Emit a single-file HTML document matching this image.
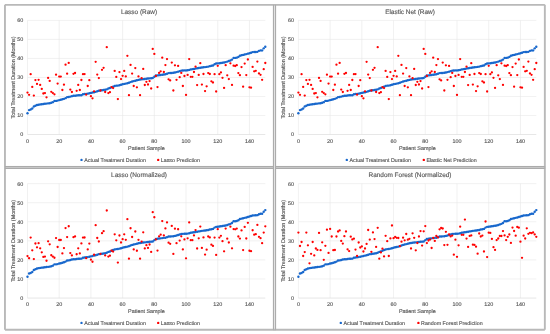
<!DOCTYPE html>
<html><head><meta charset="utf-8"><style>
html,body{margin:0;padding:0;background:#fff;}
svg{display:block;filter:blur(0.3px);}
text{text-rendering:geometricPrecision;}
.t{font-family:'Liberation Sans', Arial, sans-serif;font-size:5.42px;fill:#595959;stroke:#595959;stroke-width:0.15px;}
.lg{font-family:'Liberation Sans', Arial, sans-serif;font-size:5.3px;fill:#595959;stroke:#595959;stroke-width:0.15px;}
.ti{font-family:'Liberation Sans', Arial, sans-serif;font-size:6.45px;fill:#595959;stroke:#595959;stroke-width:0.15px;}
</style></head><body>
<svg width="550" height="334" viewBox="0 0 550 334">
<rect width="550" height="334" fill="#fff"/>
<path d="M27.50 115.48H265.30 M27.50 96.47H265.30 M27.50 77.45H265.30 M27.50 58.43H265.30 M27.50 39.42H265.30 M27.50 20.40H265.30 M27.50 20.40V134.50 M59.21 20.40V134.50 M90.91 20.40V134.50 M122.62 20.40V134.50 M154.33 20.40V134.50 M186.03 20.40V134.50 M217.74 20.40V134.50 M249.45 20.40V134.50" stroke="#e8e8e8" stroke-width="0.6" fill="none"/>
<path d="M27.50 134.50H265.30" stroke="#dcdcdc" stroke-width="0.7" fill="none"/>
<text x="23.20" y="136.40" text-anchor="end" class="t">0</text>
<text x="23.20" y="117.38" text-anchor="end" class="t">10</text>
<text x="23.20" y="98.37" text-anchor="end" class="t">20</text>
<text x="23.20" y="79.35" text-anchor="end" class="t">30</text>
<text x="23.20" y="60.33" text-anchor="end" class="t">40</text>
<text x="23.20" y="41.32" text-anchor="end" class="t">50</text>
<text x="23.20" y="22.30" text-anchor="end" class="t">60</text>
<text x="27.50" y="142.70" text-anchor="middle" class="t">0</text>
<text x="59.21" y="142.70" text-anchor="middle" class="t">20</text>
<text x="90.91" y="142.70" text-anchor="middle" class="t">40</text>
<text x="122.62" y="142.70" text-anchor="middle" class="t">60</text>
<text x="154.33" y="142.70" text-anchor="middle" class="t">80</text>
<text x="186.03" y="142.70" text-anchor="middle" class="t">100</text>
<text x="217.74" y="142.70" text-anchor="middle" class="t">120</text>
<text x="249.45" y="142.70" text-anchor="middle" class="t">140</text>
<text x="146.40" y="149.60" text-anchor="middle" class="t">Patient Sample</text>
<text transform="translate(14.50 77.45) rotate(-90)" text-anchor="middle" class="t">Total Treatment Duration (Months)</text>
<text x="139.00" y="14.30" text-anchor="middle" class="ti">Lasso (Raw)</text>
<g fill="#1767cc"><circle cx="27.50" cy="113.30" r="1.2"/><circle cx="29.09" cy="110.09" r="1.2"/><circle cx="30.67" cy="109.55" r="1.2"/><circle cx="32.26" cy="108.46" r="1.2"/><circle cx="33.84" cy="106.57" r="1.2"/><circle cx="35.43" cy="105.74" r="1.2"/><circle cx="37.01" cy="104.98" r="1.2"/><circle cx="38.60" cy="104.69" r="1.2"/><circle cx="40.18" cy="104.42" r="1.2"/><circle cx="41.77" cy="104.19" r="1.2"/><circle cx="43.35" cy="103.99" r="1.2"/><circle cx="44.94" cy="103.82" r="1.2"/><circle cx="46.52" cy="103.59" r="1.2"/><circle cx="48.11" cy="103.37" r="1.2"/><circle cx="49.69" cy="103.19" r="1.2"/><circle cx="51.28" cy="102.82" r="1.2"/><circle cx="52.87" cy="102.16" r="1.2"/><circle cx="54.45" cy="100.91" r="1.2"/><circle cx="56.04" cy="100.91" r="1.2"/><circle cx="57.62" cy="100.62" r="1.2"/><circle cx="59.21" cy="100.11" r="1.2"/><circle cx="60.79" cy="99.72" r="1.2"/><circle cx="62.38" cy="99.29" r="1.2"/><circle cx="63.96" cy="98.86" r="1.2"/><circle cx="65.55" cy="98.16" r="1.2"/><circle cx="67.13" cy="97.10" r="1.2"/><circle cx="68.72" cy="96.95" r="1.2"/><circle cx="70.30" cy="96.58" r="1.2"/><circle cx="71.89" cy="96.13" r="1.2"/><circle cx="73.47" cy="95.82" r="1.2"/><circle cx="75.06" cy="95.73" r="1.2"/><circle cx="76.65" cy="95.55" r="1.2"/><circle cx="78.23" cy="95.30" r="1.2"/><circle cx="79.82" cy="95.30" r="1.2"/><circle cx="81.40" cy="95.22" r="1.2"/><circle cx="82.99" cy="94.30" r="1.2"/><circle cx="84.57" cy="94.02" r="1.2"/><circle cx="86.16" cy="93.84" r="1.2"/><circle cx="87.74" cy="93.65" r="1.2"/><circle cx="89.33" cy="93.29" r="1.2"/><circle cx="90.91" cy="92.92" r="1.2"/><circle cx="92.50" cy="92.50" r="1.2"/><circle cx="94.08" cy="92.18" r="1.2"/><circle cx="95.67" cy="91.87" r="1.2"/><circle cx="97.25" cy="91.25" r="1.2"/><circle cx="98.84" cy="90.73" r="1.2"/><circle cx="100.43" cy="90.50" r="1.2"/><circle cx="102.01" cy="90.27" r="1.2"/><circle cx="103.60" cy="90.03" r="1.2"/><circle cx="105.18" cy="89.74" r="1.2"/><circle cx="106.77" cy="89.34" r="1.2"/><circle cx="108.35" cy="88.46" r="1.2"/><circle cx="109.94" cy="88.03" r="1.2"/><circle cx="111.52" cy="87.36" r="1.2"/><circle cx="113.11" cy="86.64" r="1.2"/><circle cx="114.69" cy="86.02" r="1.2"/><circle cx="116.28" cy="85.67" r="1.2"/><circle cx="117.86" cy="85.61" r="1.2"/><circle cx="119.45" cy="85.23" r="1.2"/><circle cx="121.03" cy="84.76" r="1.2"/><circle cx="122.62" cy="84.29" r="1.2"/><circle cx="124.21" cy="83.89" r="1.2"/><circle cx="125.79" cy="83.61" r="1.2"/><circle cx="127.38" cy="83.21" r="1.2"/><circle cx="128.96" cy="82.74" r="1.2"/><circle cx="130.55" cy="82.11" r="1.2"/><circle cx="132.13" cy="81.51" r="1.2"/><circle cx="133.72" cy="81.10" r="1.2"/><circle cx="135.30" cy="80.70" r="1.2"/><circle cx="136.89" cy="80.30" r="1.2"/><circle cx="138.47" cy="79.91" r="1.2"/><circle cx="140.06" cy="79.53" r="1.2"/><circle cx="141.64" cy="79.30" r="1.2"/><circle cx="143.23" cy="79.13" r="1.2"/><circle cx="144.81" cy="78.95" r="1.2"/><circle cx="146.40" cy="78.77" r="1.2"/><circle cx="147.99" cy="78.54" r="1.2"/><circle cx="149.57" cy="78.35" r="1.2"/><circle cx="151.16" cy="78.23" r="1.2"/><circle cx="152.74" cy="78.04" r="1.2"/><circle cx="154.33" cy="76.77" r="1.2"/><circle cx="155.91" cy="75.55" r="1.2"/><circle cx="157.50" cy="75.38" r="1.2"/><circle cx="159.08" cy="75.17" r="1.2"/><circle cx="160.67" cy="74.93" r="1.2"/><circle cx="162.25" cy="74.70" r="1.2"/><circle cx="163.84" cy="74.47" r="1.2"/><circle cx="165.42" cy="74.29" r="1.2"/><circle cx="167.01" cy="73.75" r="1.2"/><circle cx="168.59" cy="73.09" r="1.2"/><circle cx="170.18" cy="73.04" r="1.2"/><circle cx="171.77" cy="72.97" r="1.2"/><circle cx="173.35" cy="72.79" r="1.2"/><circle cx="174.94" cy="72.51" r="1.2"/><circle cx="176.52" cy="72.10" r="1.2"/><circle cx="178.11" cy="71.64" r="1.2"/><circle cx="179.69" cy="71.17" r="1.2"/><circle cx="181.28" cy="70.61" r="1.2"/><circle cx="182.86" cy="70.48" r="1.2"/><circle cx="184.45" cy="70.40" r="1.2"/><circle cx="186.03" cy="70.40" r="1.2"/><circle cx="187.62" cy="70.23" r="1.2"/><circle cx="189.20" cy="69.90" r="1.2"/><circle cx="190.79" cy="69.40" r="1.2"/><circle cx="192.37" cy="69.14" r="1.2"/><circle cx="193.96" cy="68.91" r="1.2"/><circle cx="195.55" cy="68.62" r="1.2"/><circle cx="197.13" cy="68.32" r="1.2"/><circle cx="198.72" cy="68.04" r="1.2"/><circle cx="200.30" cy="67.75" r="1.2"/><circle cx="201.89" cy="67.46" r="1.2"/><circle cx="203.47" cy="67.26" r="1.2"/><circle cx="205.06" cy="67.08" r="1.2"/><circle cx="206.64" cy="66.91" r="1.2"/><circle cx="208.23" cy="66.62" r="1.2"/><circle cx="209.81" cy="66.17" r="1.2"/><circle cx="211.40" cy="65.82" r="1.2"/><circle cx="212.98" cy="65.52" r="1.2"/><circle cx="214.57" cy="64.21" r="1.2"/><circle cx="216.15" cy="63.47" r="1.2"/><circle cx="217.74" cy="63.36" r="1.2"/><circle cx="219.33" cy="63.18" r="1.2"/><circle cx="220.91" cy="62.96" r="1.2"/><circle cx="222.50" cy="62.70" r="1.2"/><circle cx="224.08" cy="62.46" r="1.2"/><circle cx="225.67" cy="62.09" r="1.2"/><circle cx="227.25" cy="61.58" r="1.2"/><circle cx="228.84" cy="61.05" r="1.2"/><circle cx="230.42" cy="60.52" r="1.2"/><circle cx="232.01" cy="59.60" r="1.2"/><circle cx="233.59" cy="57.90" r="1.2"/><circle cx="235.18" cy="57.90" r="1.2"/><circle cx="236.76" cy="57.64" r="1.2"/><circle cx="238.35" cy="56.88" r="1.2"/><circle cx="239.93" cy="55.69" r="1.2"/><circle cx="241.52" cy="55.30" r="1.2"/><circle cx="243.11" cy="54.91" r="1.2"/><circle cx="244.69" cy="54.53" r="1.2"/><circle cx="246.28" cy="54.09" r="1.2"/><circle cx="247.86" cy="53.65" r="1.2"/><circle cx="249.45" cy="53.19" r="1.2"/><circle cx="251.03" cy="52.68" r="1.2"/><circle cx="252.62" cy="52.10" r="1.2"/><circle cx="254.20" cy="52.00" r="1.2"/><circle cx="255.79" cy="51.98" r="1.2"/><circle cx="257.37" cy="51.84" r="1.2"/><circle cx="258.96" cy="50.85" r="1.2"/><circle cx="260.54" cy="50.40" r="1.2"/><circle cx="262.13" cy="50.40" r="1.2"/><circle cx="263.71" cy="48.36" r="1.2"/><circle cx="265.30" cy="46.80" r="1.2"/></g>
<g fill="#ff0000"><circle cx="27.50" cy="92.60" r="1.15"/><circle cx="29.09" cy="94.80" r="1.15"/><circle cx="30.67" cy="74.20" r="1.15"/><circle cx="32.26" cy="86.90" r="1.15"/><circle cx="33.84" cy="95.60" r="1.15"/><circle cx="35.43" cy="80.10" r="1.15"/><circle cx="37.01" cy="83.90" r="1.15"/><circle cx="38.60" cy="79.80" r="1.15"/><circle cx="40.18" cy="84.90" r="1.15"/><circle cx="41.77" cy="88.90" r="1.15"/><circle cx="43.35" cy="93.50" r="1.15"/><circle cx="44.94" cy="93.10" r="1.15"/><circle cx="46.52" cy="97.30" r="1.15"/><circle cx="48.11" cy="77.90" r="1.15"/><circle cx="49.69" cy="80.90" r="1.15"/><circle cx="51.28" cy="91.80" r="1.15"/><circle cx="52.87" cy="93.10" r="1.15"/><circle cx="54.45" cy="94.30" r="1.15"/><circle cx="56.04" cy="74.70" r="1.15"/><circle cx="57.62" cy="83.60" r="1.15"/><circle cx="59.21" cy="76.60" r="1.15"/><circle cx="60.79" cy="76.60" r="1.15"/><circle cx="62.38" cy="90.00" r="1.15"/><circle cx="63.96" cy="84.70" r="1.15"/><circle cx="65.55" cy="64.70" r="1.15"/><circle cx="67.13" cy="73.70" r="1.15"/><circle cx="68.72" cy="62.90" r="1.15"/><circle cx="70.30" cy="89.60" r="1.15"/><circle cx="71.89" cy="92.00" r="1.15"/><circle cx="73.47" cy="73.80" r="1.15"/><circle cx="75.06" cy="73.00" r="1.15"/><circle cx="76.65" cy="90.80" r="1.15"/><circle cx="78.23" cy="84.90" r="1.15"/><circle cx="79.82" cy="90.00" r="1.15"/><circle cx="81.40" cy="80.00" r="1.15"/><circle cx="82.99" cy="74.20" r="1.15"/><circle cx="84.57" cy="74.10" r="1.15"/><circle cx="86.16" cy="94.70" r="1.15"/><circle cx="87.74" cy="86.00" r="1.15"/><circle cx="89.33" cy="80.20" r="1.15"/><circle cx="90.91" cy="96.20" r="1.15"/><circle cx="92.50" cy="98.30" r="1.15"/><circle cx="94.08" cy="91.30" r="1.15"/><circle cx="95.67" cy="61.80" r="1.15"/><circle cx="97.25" cy="74.60" r="1.15"/><circle cx="98.84" cy="78.10" r="1.15"/><circle cx="100.43" cy="90.50" r="1.15"/><circle cx="102.01" cy="69.80" r="1.15"/><circle cx="103.60" cy="67.80" r="1.15"/><circle cx="105.18" cy="92.00" r="1.15"/><circle cx="106.77" cy="47.20" r="1.15"/><circle cx="108.35" cy="93.10" r="1.15"/><circle cx="109.94" cy="92.20" r="1.15"/><circle cx="111.52" cy="87.10" r="1.15"/><circle cx="113.11" cy="88.10" r="1.15"/><circle cx="114.69" cy="70.90" r="1.15"/><circle cx="116.28" cy="76.90" r="1.15"/><circle cx="117.86" cy="99.10" r="1.15"/><circle cx="119.45" cy="72.10" r="1.15"/><circle cx="121.03" cy="79.10" r="1.15"/><circle cx="122.62" cy="75.80" r="1.15"/><circle cx="124.21" cy="70.90" r="1.15"/><circle cx="125.79" cy="76.40" r="1.15"/><circle cx="127.38" cy="55.80" r="1.15"/><circle cx="128.96" cy="95.20" r="1.15"/><circle cx="130.55" cy="64.90" r="1.15"/><circle cx="132.13" cy="73.60" r="1.15"/><circle cx="133.72" cy="86.00" r="1.15"/><circle cx="135.30" cy="68.10" r="1.15"/><circle cx="136.89" cy="87.30" r="1.15"/><circle cx="138.47" cy="76.40" r="1.15"/><circle cx="140.06" cy="95.20" r="1.15"/><circle cx="141.64" cy="78.20" r="1.15"/><circle cx="143.23" cy="68.90" r="1.15"/><circle cx="144.81" cy="85.00" r="1.15"/><circle cx="146.40" cy="81.80" r="1.15"/><circle cx="147.99" cy="84.50" r="1.15"/><circle cx="149.57" cy="81.10" r="1.15"/><circle cx="151.16" cy="88.50" r="1.15"/><circle cx="152.74" cy="48.90" r="1.15"/><circle cx="154.33" cy="53.90" r="1.15"/><circle cx="155.91" cy="76.00" r="1.15"/><circle cx="157.50" cy="87.10" r="1.15"/><circle cx="159.08" cy="72.90" r="1.15"/><circle cx="160.67" cy="71.30" r="1.15"/><circle cx="162.25" cy="57.70" r="1.15"/><circle cx="163.84" cy="72.00" r="1.15"/><circle cx="165.42" cy="65.10" r="1.15"/><circle cx="167.01" cy="59.10" r="1.15"/><circle cx="168.59" cy="79.30" r="1.15"/><circle cx="170.18" cy="80.40" r="1.15"/><circle cx="171.77" cy="62.60" r="1.15"/><circle cx="173.35" cy="90.50" r="1.15"/><circle cx="174.94" cy="65.30" r="1.15"/><circle cx="176.52" cy="79.80" r="1.15"/><circle cx="178.11" cy="65.90" r="1.15"/><circle cx="179.69" cy="77.20" r="1.15"/><circle cx="181.28" cy="72.90" r="1.15"/><circle cx="182.86" cy="86.00" r="1.15"/><circle cx="184.45" cy="76.00" r="1.15"/><circle cx="186.03" cy="94.90" r="1.15"/><circle cx="187.62" cy="74.90" r="1.15"/><circle cx="189.20" cy="59.10" r="1.15"/><circle cx="190.79" cy="76.80" r="1.15"/><circle cx="192.37" cy="76.80" r="1.15"/><circle cx="193.96" cy="72.00" r="1.15"/><circle cx="195.55" cy="66.70" r="1.15"/><circle cx="197.13" cy="85.10" r="1.15"/><circle cx="198.72" cy="74.90" r="1.15"/><circle cx="200.30" cy="63.20" r="1.15"/><circle cx="201.89" cy="84.55" r="1.15"/><circle cx="203.47" cy="74.00" r="1.15"/><circle cx="205.06" cy="91.10" r="1.15"/><circle cx="206.64" cy="86.30" r="1.15"/><circle cx="208.23" cy="73.10" r="1.15"/><circle cx="209.81" cy="74.00" r="1.15"/><circle cx="211.40" cy="81.30" r="1.15"/><circle cx="212.98" cy="82.50" r="1.15"/><circle cx="214.57" cy="74.20" r="1.15"/><circle cx="216.15" cy="91.50" r="1.15"/><circle cx="217.74" cy="65.80" r="1.15"/><circle cx="219.33" cy="74.20" r="1.15"/><circle cx="220.91" cy="72.40" r="1.15"/><circle cx="222.50" cy="77.80" r="1.15"/><circle cx="224.08" cy="87.90" r="1.15"/><circle cx="225.67" cy="65.20" r="1.15"/><circle cx="227.25" cy="75.30" r="1.15"/><circle cx="228.84" cy="79.10" r="1.15"/><circle cx="230.42" cy="63.30" r="1.15"/><circle cx="232.01" cy="84.90" r="1.15"/><circle cx="233.59" cy="65.70" r="1.15"/><circle cx="235.18" cy="66.00" r="1.15"/><circle cx="236.76" cy="65.20" r="1.15"/><circle cx="238.35" cy="73.10" r="1.15"/><circle cx="239.93" cy="75.20" r="1.15"/><circle cx="241.52" cy="67.10" r="1.15"/><circle cx="243.11" cy="86.70" r="1.15"/><circle cx="244.69" cy="63.60" r="1.15"/><circle cx="246.28" cy="75.10" r="1.15"/><circle cx="247.86" cy="59.50" r="1.15"/><circle cx="249.45" cy="87.30" r="1.15"/><circle cx="251.03" cy="87.70" r="1.15"/><circle cx="252.62" cy="66.90" r="1.15"/><circle cx="254.20" cy="71.30" r="1.15"/><circle cx="255.79" cy="70.80" r="1.15"/><circle cx="257.37" cy="61.60" r="1.15"/><circle cx="258.96" cy="73.40" r="1.15"/><circle cx="260.54" cy="74.80" r="1.15"/><circle cx="262.13" cy="79.80" r="1.15"/><circle cx="263.71" cy="69.20" r="1.15"/><circle cx="265.30" cy="63.00" r="1.15"/></g>
<g class="lg">
<circle cx="81.50" cy="159.90" r="1.2" fill="#1767cc" stroke="none"/>
<text x="84.30" y="161.50">Actual Treatment Duration</text>
<circle cx="158.20" cy="159.90" r="1.2" fill="#ff0000" stroke="none"/>
<text x="160.80" y="161.50">Lasso Prediction</text>
</g>
<path d="M298.40 115.48H536.30 M298.40 96.47H536.30 M298.40 77.45H536.30 M298.40 58.43H536.30 M298.40 39.42H536.30 M298.40 20.40H536.30 M298.40 20.40V134.50 M330.12 20.40V134.50 M361.84 20.40V134.50 M393.56 20.40V134.50 M425.28 20.40V134.50 M457.00 20.40V134.50 M488.72 20.40V134.50 M520.44 20.40V134.50" stroke="#e8e8e8" stroke-width="0.6" fill="none"/>
<path d="M298.40 134.50H536.30" stroke="#dcdcdc" stroke-width="0.7" fill="none"/>
<text x="294.10" y="136.40" text-anchor="end" class="t">0</text>
<text x="294.10" y="117.38" text-anchor="end" class="t">10</text>
<text x="294.10" y="98.37" text-anchor="end" class="t">20</text>
<text x="294.10" y="79.35" text-anchor="end" class="t">30</text>
<text x="294.10" y="60.33" text-anchor="end" class="t">40</text>
<text x="294.10" y="41.32" text-anchor="end" class="t">50</text>
<text x="294.10" y="22.30" text-anchor="end" class="t">60</text>
<text x="298.40" y="142.70" text-anchor="middle" class="t">0</text>
<text x="330.12" y="142.70" text-anchor="middle" class="t">20</text>
<text x="361.84" y="142.70" text-anchor="middle" class="t">40</text>
<text x="393.56" y="142.70" text-anchor="middle" class="t">60</text>
<text x="425.28" y="142.70" text-anchor="middle" class="t">80</text>
<text x="457.00" y="142.70" text-anchor="middle" class="t">100</text>
<text x="488.72" y="142.70" text-anchor="middle" class="t">120</text>
<text x="520.44" y="142.70" text-anchor="middle" class="t">140</text>
<text x="417.35" y="149.60" text-anchor="middle" class="t">Patient Sample</text>
<text transform="translate(284.70 77.45) rotate(-90)" text-anchor="middle" class="t">Total Treatment Duration (Months)</text>
<text x="410.00" y="14.30" text-anchor="middle" class="ti">Elastic Net (Raw)</text>
<g fill="#1767cc"><circle cx="298.40" cy="113.30" r="1.2"/><circle cx="299.99" cy="110.09" r="1.2"/><circle cx="301.57" cy="109.55" r="1.2"/><circle cx="303.16" cy="108.46" r="1.2"/><circle cx="304.74" cy="106.57" r="1.2"/><circle cx="306.33" cy="105.74" r="1.2"/><circle cx="307.92" cy="104.98" r="1.2"/><circle cx="309.50" cy="104.69" r="1.2"/><circle cx="311.09" cy="104.42" r="1.2"/><circle cx="312.67" cy="104.19" r="1.2"/><circle cx="314.26" cy="103.99" r="1.2"/><circle cx="315.85" cy="103.82" r="1.2"/><circle cx="317.43" cy="103.59" r="1.2"/><circle cx="319.02" cy="103.37" r="1.2"/><circle cx="320.60" cy="103.19" r="1.2"/><circle cx="322.19" cy="102.82" r="1.2"/><circle cx="323.78" cy="102.16" r="1.2"/><circle cx="325.36" cy="100.91" r="1.2"/><circle cx="326.95" cy="100.91" r="1.2"/><circle cx="328.53" cy="100.62" r="1.2"/><circle cx="330.12" cy="100.11" r="1.2"/><circle cx="331.71" cy="99.72" r="1.2"/><circle cx="333.29" cy="99.29" r="1.2"/><circle cx="334.88" cy="98.86" r="1.2"/><circle cx="336.46" cy="98.16" r="1.2"/><circle cx="338.05" cy="97.10" r="1.2"/><circle cx="339.64" cy="96.95" r="1.2"/><circle cx="341.22" cy="96.58" r="1.2"/><circle cx="342.81" cy="96.13" r="1.2"/><circle cx="344.39" cy="95.82" r="1.2"/><circle cx="345.98" cy="95.73" r="1.2"/><circle cx="347.57" cy="95.55" r="1.2"/><circle cx="349.15" cy="95.30" r="1.2"/><circle cx="350.74" cy="95.30" r="1.2"/><circle cx="352.32" cy="95.22" r="1.2"/><circle cx="353.91" cy="94.30" r="1.2"/><circle cx="355.50" cy="94.02" r="1.2"/><circle cx="357.08" cy="93.84" r="1.2"/><circle cx="358.67" cy="93.65" r="1.2"/><circle cx="360.25" cy="93.29" r="1.2"/><circle cx="361.84" cy="92.92" r="1.2"/><circle cx="363.43" cy="92.50" r="1.2"/><circle cx="365.01" cy="92.18" r="1.2"/><circle cx="366.60" cy="91.87" r="1.2"/><circle cx="368.18" cy="91.25" r="1.2"/><circle cx="369.77" cy="90.73" r="1.2"/><circle cx="371.36" cy="90.50" r="1.2"/><circle cx="372.94" cy="90.27" r="1.2"/><circle cx="374.53" cy="90.03" r="1.2"/><circle cx="376.11" cy="89.74" r="1.2"/><circle cx="377.70" cy="89.34" r="1.2"/><circle cx="379.29" cy="88.46" r="1.2"/><circle cx="380.87" cy="88.03" r="1.2"/><circle cx="382.46" cy="87.36" r="1.2"/><circle cx="384.04" cy="86.64" r="1.2"/><circle cx="385.63" cy="86.02" r="1.2"/><circle cx="387.22" cy="85.67" r="1.2"/><circle cx="388.80" cy="85.61" r="1.2"/><circle cx="390.39" cy="85.23" r="1.2"/><circle cx="391.97" cy="84.76" r="1.2"/><circle cx="393.56" cy="84.29" r="1.2"/><circle cx="395.15" cy="83.89" r="1.2"/><circle cx="396.73" cy="83.61" r="1.2"/><circle cx="398.32" cy="83.21" r="1.2"/><circle cx="399.90" cy="82.74" r="1.2"/><circle cx="401.49" cy="82.11" r="1.2"/><circle cx="403.08" cy="81.51" r="1.2"/><circle cx="404.66" cy="81.10" r="1.2"/><circle cx="406.25" cy="80.70" r="1.2"/><circle cx="407.83" cy="80.30" r="1.2"/><circle cx="409.42" cy="79.91" r="1.2"/><circle cx="411.01" cy="79.53" r="1.2"/><circle cx="412.59" cy="79.30" r="1.2"/><circle cx="414.18" cy="79.13" r="1.2"/><circle cx="415.76" cy="78.95" r="1.2"/><circle cx="417.35" cy="78.77" r="1.2"/><circle cx="418.94" cy="78.54" r="1.2"/><circle cx="420.52" cy="78.35" r="1.2"/><circle cx="422.11" cy="78.23" r="1.2"/><circle cx="423.69" cy="78.04" r="1.2"/><circle cx="425.28" cy="76.77" r="1.2"/><circle cx="426.87" cy="75.55" r="1.2"/><circle cx="428.45" cy="75.38" r="1.2"/><circle cx="430.04" cy="75.17" r="1.2"/><circle cx="431.62" cy="74.93" r="1.2"/><circle cx="433.21" cy="74.70" r="1.2"/><circle cx="434.80" cy="74.47" r="1.2"/><circle cx="436.38" cy="74.29" r="1.2"/><circle cx="437.97" cy="73.75" r="1.2"/><circle cx="439.55" cy="73.09" r="1.2"/><circle cx="441.14" cy="73.04" r="1.2"/><circle cx="442.73" cy="72.97" r="1.2"/><circle cx="444.31" cy="72.79" r="1.2"/><circle cx="445.90" cy="72.51" r="1.2"/><circle cx="447.48" cy="72.10" r="1.2"/><circle cx="449.07" cy="71.64" r="1.2"/><circle cx="450.66" cy="71.17" r="1.2"/><circle cx="452.24" cy="70.61" r="1.2"/><circle cx="453.83" cy="70.48" r="1.2"/><circle cx="455.41" cy="70.40" r="1.2"/><circle cx="457.00" cy="70.40" r="1.2"/><circle cx="458.59" cy="70.23" r="1.2"/><circle cx="460.17" cy="69.90" r="1.2"/><circle cx="461.76" cy="69.40" r="1.2"/><circle cx="463.34" cy="69.14" r="1.2"/><circle cx="464.93" cy="68.91" r="1.2"/><circle cx="466.52" cy="68.62" r="1.2"/><circle cx="468.10" cy="68.32" r="1.2"/><circle cx="469.69" cy="68.04" r="1.2"/><circle cx="471.27" cy="67.75" r="1.2"/><circle cx="472.86" cy="67.46" r="1.2"/><circle cx="474.45" cy="67.26" r="1.2"/><circle cx="476.03" cy="67.08" r="1.2"/><circle cx="477.62" cy="66.91" r="1.2"/><circle cx="479.20" cy="66.62" r="1.2"/><circle cx="480.79" cy="66.17" r="1.2"/><circle cx="482.38" cy="65.82" r="1.2"/><circle cx="483.96" cy="65.52" r="1.2"/><circle cx="485.55" cy="64.21" r="1.2"/><circle cx="487.13" cy="63.47" r="1.2"/><circle cx="488.72" cy="63.36" r="1.2"/><circle cx="490.31" cy="63.18" r="1.2"/><circle cx="491.89" cy="62.96" r="1.2"/><circle cx="493.48" cy="62.70" r="1.2"/><circle cx="495.06" cy="62.46" r="1.2"/><circle cx="496.65" cy="62.09" r="1.2"/><circle cx="498.24" cy="61.58" r="1.2"/><circle cx="499.82" cy="61.05" r="1.2"/><circle cx="501.41" cy="60.52" r="1.2"/><circle cx="502.99" cy="59.60" r="1.2"/><circle cx="504.58" cy="57.90" r="1.2"/><circle cx="506.17" cy="57.90" r="1.2"/><circle cx="507.75" cy="57.64" r="1.2"/><circle cx="509.34" cy="56.88" r="1.2"/><circle cx="510.92" cy="55.69" r="1.2"/><circle cx="512.51" cy="55.30" r="1.2"/><circle cx="514.10" cy="54.91" r="1.2"/><circle cx="515.68" cy="54.53" r="1.2"/><circle cx="517.27" cy="54.09" r="1.2"/><circle cx="518.85" cy="53.65" r="1.2"/><circle cx="520.44" cy="53.19" r="1.2"/><circle cx="522.03" cy="52.68" r="1.2"/><circle cx="523.61" cy="52.10" r="1.2"/><circle cx="525.20" cy="52.00" r="1.2"/><circle cx="526.78" cy="51.98" r="1.2"/><circle cx="528.37" cy="51.84" r="1.2"/><circle cx="529.96" cy="50.85" r="1.2"/><circle cx="531.54" cy="50.40" r="1.2"/><circle cx="533.13" cy="50.40" r="1.2"/><circle cx="534.71" cy="48.36" r="1.2"/><circle cx="536.30" cy="46.80" r="1.2"/></g>
<g fill="#ff0000"><circle cx="298.40" cy="92.60" r="1.15"/><circle cx="299.99" cy="94.80" r="1.15"/><circle cx="301.57" cy="74.20" r="1.15"/><circle cx="303.16" cy="86.90" r="1.15"/><circle cx="304.74" cy="95.60" r="1.15"/><circle cx="306.33" cy="80.10" r="1.15"/><circle cx="307.92" cy="83.90" r="1.15"/><circle cx="309.50" cy="79.80" r="1.15"/><circle cx="311.09" cy="84.90" r="1.15"/><circle cx="312.67" cy="88.90" r="1.15"/><circle cx="314.26" cy="93.50" r="1.15"/><circle cx="315.85" cy="93.10" r="1.15"/><circle cx="317.43" cy="97.30" r="1.15"/><circle cx="319.02" cy="77.90" r="1.15"/><circle cx="320.60" cy="80.90" r="1.15"/><circle cx="322.19" cy="91.80" r="1.15"/><circle cx="323.78" cy="93.10" r="1.15"/><circle cx="325.36" cy="94.30" r="1.15"/><circle cx="326.95" cy="74.70" r="1.15"/><circle cx="328.53" cy="83.60" r="1.15"/><circle cx="330.12" cy="76.60" r="1.15"/><circle cx="331.71" cy="76.60" r="1.15"/><circle cx="333.29" cy="90.00" r="1.15"/><circle cx="334.88" cy="84.70" r="1.15"/><circle cx="336.46" cy="64.70" r="1.15"/><circle cx="338.05" cy="73.70" r="1.15"/><circle cx="339.64" cy="62.90" r="1.15"/><circle cx="341.22" cy="89.60" r="1.15"/><circle cx="342.81" cy="92.00" r="1.15"/><circle cx="344.39" cy="73.80" r="1.15"/><circle cx="345.98" cy="73.00" r="1.15"/><circle cx="347.57" cy="90.80" r="1.15"/><circle cx="349.15" cy="84.90" r="1.15"/><circle cx="350.74" cy="90.00" r="1.15"/><circle cx="352.32" cy="80.00" r="1.15"/><circle cx="353.91" cy="74.20" r="1.15"/><circle cx="355.50" cy="74.10" r="1.15"/><circle cx="357.08" cy="94.70" r="1.15"/><circle cx="358.67" cy="86.00" r="1.15"/><circle cx="360.25" cy="80.20" r="1.15"/><circle cx="361.84" cy="96.20" r="1.15"/><circle cx="363.43" cy="98.30" r="1.15"/><circle cx="365.01" cy="91.30" r="1.15"/><circle cx="366.60" cy="61.80" r="1.15"/><circle cx="368.18" cy="74.60" r="1.15"/><circle cx="369.77" cy="78.10" r="1.15"/><circle cx="371.36" cy="90.50" r="1.15"/><circle cx="372.94" cy="69.80" r="1.15"/><circle cx="374.53" cy="67.80" r="1.15"/><circle cx="376.11" cy="92.00" r="1.15"/><circle cx="377.70" cy="47.20" r="1.15"/><circle cx="379.29" cy="93.10" r="1.15"/><circle cx="380.87" cy="92.20" r="1.15"/><circle cx="382.46" cy="87.10" r="1.15"/><circle cx="384.04" cy="88.10" r="1.15"/><circle cx="385.63" cy="70.90" r="1.15"/><circle cx="387.22" cy="76.90" r="1.15"/><circle cx="388.80" cy="99.10" r="1.15"/><circle cx="390.39" cy="72.10" r="1.15"/><circle cx="391.97" cy="79.10" r="1.15"/><circle cx="393.56" cy="75.80" r="1.15"/><circle cx="395.15" cy="70.90" r="1.15"/><circle cx="396.73" cy="76.40" r="1.15"/><circle cx="398.32" cy="55.80" r="1.15"/><circle cx="399.90" cy="95.20" r="1.15"/><circle cx="401.49" cy="64.90" r="1.15"/><circle cx="403.08" cy="73.60" r="1.15"/><circle cx="404.66" cy="86.00" r="1.15"/><circle cx="406.25" cy="68.10" r="1.15"/><circle cx="407.83" cy="87.30" r="1.15"/><circle cx="409.42" cy="76.40" r="1.15"/><circle cx="411.01" cy="95.20" r="1.15"/><circle cx="412.59" cy="78.20" r="1.15"/><circle cx="414.18" cy="68.90" r="1.15"/><circle cx="415.76" cy="85.00" r="1.15"/><circle cx="417.35" cy="81.80" r="1.15"/><circle cx="418.94" cy="84.50" r="1.15"/><circle cx="420.52" cy="81.10" r="1.15"/><circle cx="422.11" cy="88.50" r="1.15"/><circle cx="423.69" cy="48.90" r="1.15"/><circle cx="425.28" cy="53.90" r="1.15"/><circle cx="426.87" cy="76.00" r="1.15"/><circle cx="428.45" cy="87.10" r="1.15"/><circle cx="430.04" cy="72.90" r="1.15"/><circle cx="431.62" cy="71.30" r="1.15"/><circle cx="433.21" cy="57.70" r="1.15"/><circle cx="434.80" cy="72.00" r="1.15"/><circle cx="436.38" cy="65.10" r="1.15"/><circle cx="437.97" cy="59.10" r="1.15"/><circle cx="439.55" cy="79.30" r="1.15"/><circle cx="441.14" cy="80.40" r="1.15"/><circle cx="442.73" cy="62.60" r="1.15"/><circle cx="444.31" cy="90.50" r="1.15"/><circle cx="445.90" cy="65.30" r="1.15"/><circle cx="447.48" cy="79.80" r="1.15"/><circle cx="449.07" cy="65.90" r="1.15"/><circle cx="450.66" cy="77.20" r="1.15"/><circle cx="452.24" cy="72.90" r="1.15"/><circle cx="453.83" cy="86.00" r="1.15"/><circle cx="455.41" cy="76.00" r="1.15"/><circle cx="457.00" cy="94.90" r="1.15"/><circle cx="458.59" cy="74.90" r="1.15"/><circle cx="460.17" cy="59.10" r="1.15"/><circle cx="461.76" cy="76.80" r="1.15"/><circle cx="463.34" cy="76.80" r="1.15"/><circle cx="464.93" cy="72.00" r="1.15"/><circle cx="466.52" cy="66.70" r="1.15"/><circle cx="468.10" cy="85.10" r="1.15"/><circle cx="469.69" cy="74.90" r="1.15"/><circle cx="471.27" cy="63.20" r="1.15"/><circle cx="472.86" cy="84.55" r="1.15"/><circle cx="474.45" cy="74.00" r="1.15"/><circle cx="476.03" cy="91.10" r="1.15"/><circle cx="477.62" cy="86.30" r="1.15"/><circle cx="479.20" cy="73.10" r="1.15"/><circle cx="480.79" cy="74.00" r="1.15"/><circle cx="482.38" cy="81.30" r="1.15"/><circle cx="483.96" cy="82.50" r="1.15"/><circle cx="485.55" cy="74.20" r="1.15"/><circle cx="487.13" cy="91.50" r="1.15"/><circle cx="488.72" cy="65.80" r="1.15"/><circle cx="490.31" cy="74.20" r="1.15"/><circle cx="491.89" cy="72.40" r="1.15"/><circle cx="493.48" cy="77.80" r="1.15"/><circle cx="495.06" cy="87.90" r="1.15"/><circle cx="496.65" cy="65.20" r="1.15"/><circle cx="498.24" cy="75.30" r="1.15"/><circle cx="499.82" cy="79.10" r="1.15"/><circle cx="501.41" cy="63.30" r="1.15"/><circle cx="502.99" cy="84.90" r="1.15"/><circle cx="504.58" cy="65.70" r="1.15"/><circle cx="506.17" cy="66.00" r="1.15"/><circle cx="507.75" cy="65.20" r="1.15"/><circle cx="509.34" cy="73.10" r="1.15"/><circle cx="510.92" cy="75.20" r="1.15"/><circle cx="512.51" cy="67.10" r="1.15"/><circle cx="514.10" cy="86.70" r="1.15"/><circle cx="515.68" cy="63.60" r="1.15"/><circle cx="517.27" cy="75.10" r="1.15"/><circle cx="518.85" cy="59.50" r="1.15"/><circle cx="520.44" cy="87.30" r="1.15"/><circle cx="522.03" cy="87.70" r="1.15"/><circle cx="523.61" cy="66.90" r="1.15"/><circle cx="525.20" cy="71.30" r="1.15"/><circle cx="526.78" cy="70.80" r="1.15"/><circle cx="528.37" cy="61.60" r="1.15"/><circle cx="529.96" cy="73.40" r="1.15"/><circle cx="531.54" cy="74.80" r="1.15"/><circle cx="533.13" cy="79.80" r="1.15"/><circle cx="534.71" cy="69.20" r="1.15"/><circle cx="536.30" cy="63.00" r="1.15"/></g>
<g class="lg">
<circle cx="346.80" cy="159.90" r="1.2" fill="#1767cc" stroke="none"/>
<text x="349.50" y="161.50">Actual Treatment Duration</text>
<circle cx="423.80" cy="159.90" r="1.2" fill="#ff0000" stroke="none"/>
<text x="426.40" y="161.50">Elastic Net Prediction</text>
</g>
<path d="M27.50 278.98H265.30 M27.50 259.92H265.30 M27.50 240.85H265.30 M27.50 221.78H265.30 M27.50 202.72H265.30 M27.50 183.65H265.30 M27.50 183.65V298.05 M59.21 183.65V298.05 M90.91 183.65V298.05 M122.62 183.65V298.05 M154.33 183.65V298.05 M186.03 183.65V298.05 M217.74 183.65V298.05 M249.45 183.65V298.05" stroke="#e8e8e8" stroke-width="0.6" fill="none"/>
<path d="M27.50 298.05H265.30" stroke="#dcdcdc" stroke-width="0.7" fill="none"/>
<text x="23.20" y="299.95" text-anchor="end" class="t">0</text>
<text x="23.20" y="280.88" text-anchor="end" class="t">10</text>
<text x="23.20" y="261.82" text-anchor="end" class="t">20</text>
<text x="23.20" y="242.75" text-anchor="end" class="t">30</text>
<text x="23.20" y="223.68" text-anchor="end" class="t">40</text>
<text x="23.20" y="204.62" text-anchor="end" class="t">50</text>
<text x="23.20" y="185.55" text-anchor="end" class="t">60</text>
<text x="27.50" y="306.25" text-anchor="middle" class="t">0</text>
<text x="59.21" y="306.25" text-anchor="middle" class="t">20</text>
<text x="90.91" y="306.25" text-anchor="middle" class="t">40</text>
<text x="122.62" y="306.25" text-anchor="middle" class="t">60</text>
<text x="154.33" y="306.25" text-anchor="middle" class="t">80</text>
<text x="186.03" y="306.25" text-anchor="middle" class="t">100</text>
<text x="217.74" y="306.25" text-anchor="middle" class="t">120</text>
<text x="249.45" y="306.25" text-anchor="middle" class="t">140</text>
<text x="146.40" y="313.15" text-anchor="middle" class="t">Patient Sample</text>
<text transform="translate(14.50 240.85) rotate(-90)" text-anchor="middle" class="t">Total Treatment Duration (Months)</text>
<text x="139.00" y="177.30" text-anchor="middle" class="ti">Lasso (Normalized)</text>
<g fill="#1767cc"><circle cx="27.50" cy="276.79" r="1.2"/><circle cx="29.09" cy="273.57" r="1.2"/><circle cx="30.67" cy="273.03" r="1.2"/><circle cx="32.26" cy="271.95" r="1.2"/><circle cx="33.84" cy="270.05" r="1.2"/><circle cx="35.43" cy="269.21" r="1.2"/><circle cx="37.01" cy="268.45" r="1.2"/><circle cx="38.60" cy="268.16" r="1.2"/><circle cx="40.18" cy="267.89" r="1.2"/><circle cx="41.77" cy="267.66" r="1.2"/><circle cx="43.35" cy="267.46" r="1.2"/><circle cx="44.94" cy="267.29" r="1.2"/><circle cx="46.52" cy="267.06" r="1.2"/><circle cx="48.11" cy="266.83" r="1.2"/><circle cx="49.69" cy="266.66" r="1.2"/><circle cx="51.28" cy="266.28" r="1.2"/><circle cx="52.87" cy="265.63" r="1.2"/><circle cx="54.45" cy="264.37" r="1.2"/><circle cx="56.04" cy="264.37" r="1.2"/><circle cx="57.62" cy="264.08" r="1.2"/><circle cx="59.21" cy="263.57" r="1.2"/><circle cx="60.79" cy="263.18" r="1.2"/><circle cx="62.38" cy="262.75" r="1.2"/><circle cx="63.96" cy="262.31" r="1.2"/><circle cx="65.55" cy="261.61" r="1.2"/><circle cx="67.13" cy="260.55" r="1.2"/><circle cx="68.72" cy="260.40" r="1.2"/><circle cx="70.30" cy="260.03" r="1.2"/><circle cx="71.89" cy="259.57" r="1.2"/><circle cx="73.47" cy="259.27" r="1.2"/><circle cx="75.06" cy="259.18" r="1.2"/><circle cx="76.65" cy="258.99" r="1.2"/><circle cx="78.23" cy="258.75" r="1.2"/><circle cx="79.82" cy="258.75" r="1.2"/><circle cx="81.40" cy="258.66" r="1.2"/><circle cx="82.99" cy="257.74" r="1.2"/><circle cx="84.57" cy="257.47" r="1.2"/><circle cx="86.16" cy="257.29" r="1.2"/><circle cx="87.74" cy="257.09" r="1.2"/><circle cx="89.33" cy="256.74" r="1.2"/><circle cx="90.91" cy="256.36" r="1.2"/><circle cx="92.50" cy="255.94" r="1.2"/><circle cx="94.08" cy="255.62" r="1.2"/><circle cx="95.67" cy="255.31" r="1.2"/><circle cx="97.25" cy="254.69" r="1.2"/><circle cx="98.84" cy="254.17" r="1.2"/><circle cx="100.43" cy="253.93" r="1.2"/><circle cx="102.01" cy="253.70" r="1.2"/><circle cx="103.60" cy="253.46" r="1.2"/><circle cx="105.18" cy="253.18" r="1.2"/><circle cx="106.77" cy="252.77" r="1.2"/><circle cx="108.35" cy="251.89" r="1.2"/><circle cx="109.94" cy="251.45" r="1.2"/><circle cx="111.52" cy="250.79" r="1.2"/><circle cx="113.11" cy="250.06" r="1.2"/><circle cx="114.69" cy="249.44" r="1.2"/><circle cx="116.28" cy="249.09" r="1.2"/><circle cx="117.86" cy="249.03" r="1.2"/><circle cx="119.45" cy="248.65" r="1.2"/><circle cx="121.03" cy="248.18" r="1.2"/><circle cx="122.62" cy="247.71" r="1.2"/><circle cx="124.21" cy="247.31" r="1.2"/><circle cx="125.79" cy="247.03" r="1.2"/><circle cx="127.38" cy="246.63" r="1.2"/><circle cx="128.96" cy="246.15" r="1.2"/><circle cx="130.55" cy="245.52" r="1.2"/><circle cx="132.13" cy="244.92" r="1.2"/><circle cx="133.72" cy="244.51" r="1.2"/><circle cx="135.30" cy="244.11" r="1.2"/><circle cx="136.89" cy="243.71" r="1.2"/><circle cx="138.47" cy="243.31" r="1.2"/><circle cx="140.06" cy="242.93" r="1.2"/><circle cx="141.64" cy="242.70" r="1.2"/><circle cx="143.23" cy="242.53" r="1.2"/><circle cx="144.81" cy="242.36" r="1.2"/><circle cx="146.40" cy="242.17" r="1.2"/><circle cx="147.99" cy="241.94" r="1.2"/><circle cx="149.57" cy="241.75" r="1.2"/><circle cx="151.16" cy="241.63" r="1.2"/><circle cx="152.74" cy="241.44" r="1.2"/><circle cx="154.33" cy="240.17" r="1.2"/><circle cx="155.91" cy="238.95" r="1.2"/><circle cx="157.50" cy="238.77" r="1.2"/><circle cx="159.08" cy="238.56" r="1.2"/><circle cx="160.67" cy="238.33" r="1.2"/><circle cx="162.25" cy="238.09" r="1.2"/><circle cx="163.84" cy="237.86" r="1.2"/><circle cx="165.42" cy="237.68" r="1.2"/><circle cx="167.01" cy="237.15" r="1.2"/><circle cx="168.59" cy="236.48" r="1.2"/><circle cx="170.18" cy="236.43" r="1.2"/><circle cx="171.77" cy="236.36" r="1.2"/><circle cx="173.35" cy="236.18" r="1.2"/><circle cx="174.94" cy="235.90" r="1.2"/><circle cx="176.52" cy="235.48" r="1.2"/><circle cx="178.11" cy="235.03" r="1.2"/><circle cx="179.69" cy="234.55" r="1.2"/><circle cx="181.28" cy="233.99" r="1.2"/><circle cx="182.86" cy="233.87" r="1.2"/><circle cx="184.45" cy="233.78" r="1.2"/><circle cx="186.03" cy="233.78" r="1.2"/><circle cx="187.62" cy="233.61" r="1.2"/><circle cx="189.20" cy="233.28" r="1.2"/><circle cx="190.79" cy="232.78" r="1.2"/><circle cx="192.37" cy="232.52" r="1.2"/><circle cx="193.96" cy="232.29" r="1.2"/><circle cx="195.55" cy="231.99" r="1.2"/><circle cx="197.13" cy="231.70" r="1.2"/><circle cx="198.72" cy="231.42" r="1.2"/><circle cx="200.30" cy="231.13" r="1.2"/><circle cx="201.89" cy="230.83" r="1.2"/><circle cx="203.47" cy="230.63" r="1.2"/><circle cx="205.06" cy="230.46" r="1.2"/><circle cx="206.64" cy="230.28" r="1.2"/><circle cx="208.23" cy="229.99" r="1.2"/><circle cx="209.81" cy="229.54" r="1.2"/><circle cx="211.40" cy="229.18" r="1.2"/><circle cx="212.98" cy="228.89" r="1.2"/><circle cx="214.57" cy="227.58" r="1.2"/><circle cx="216.15" cy="226.84" r="1.2"/><circle cx="217.74" cy="226.72" r="1.2"/><circle cx="219.33" cy="226.54" r="1.2"/><circle cx="220.91" cy="226.32" r="1.2"/><circle cx="222.50" cy="226.06" r="1.2"/><circle cx="224.08" cy="225.82" r="1.2"/><circle cx="225.67" cy="225.45" r="1.2"/><circle cx="227.25" cy="224.94" r="1.2"/><circle cx="228.84" cy="224.41" r="1.2"/><circle cx="230.42" cy="223.87" r="1.2"/><circle cx="232.01" cy="222.96" r="1.2"/><circle cx="233.59" cy="221.25" r="1.2"/><circle cx="235.18" cy="221.25" r="1.2"/><circle cx="236.76" cy="220.98" r="1.2"/><circle cx="238.35" cy="220.23" r="1.2"/><circle cx="239.93" cy="219.03" r="1.2"/><circle cx="241.52" cy="218.64" r="1.2"/><circle cx="243.11" cy="218.25" r="1.2"/><circle cx="244.69" cy="217.87" r="1.2"/><circle cx="246.28" cy="217.43" r="1.2"/><circle cx="247.86" cy="216.98" r="1.2"/><circle cx="249.45" cy="216.53" r="1.2"/><circle cx="251.03" cy="216.02" r="1.2"/><circle cx="252.62" cy="215.44" r="1.2"/><circle cx="254.20" cy="215.33" r="1.2"/><circle cx="255.79" cy="215.32" r="1.2"/><circle cx="257.37" cy="215.17" r="1.2"/><circle cx="258.96" cy="214.18" r="1.2"/><circle cx="260.54" cy="213.73" r="1.2"/><circle cx="262.13" cy="213.73" r="1.2"/><circle cx="263.71" cy="211.69" r="1.2"/><circle cx="265.30" cy="210.12" r="1.2"/></g>
<g fill="#ff0000"><circle cx="27.50" cy="256.04" r="1.15"/><circle cx="29.09" cy="258.25" r="1.15"/><circle cx="30.67" cy="237.59" r="1.15"/><circle cx="32.26" cy="250.32" r="1.15"/><circle cx="33.84" cy="259.05" r="1.15"/><circle cx="35.43" cy="243.51" r="1.15"/><circle cx="37.01" cy="247.32" r="1.15"/><circle cx="38.60" cy="243.21" r="1.15"/><circle cx="40.18" cy="248.32" r="1.15"/><circle cx="41.77" cy="252.33" r="1.15"/><circle cx="43.35" cy="256.94" r="1.15"/><circle cx="44.94" cy="256.54" r="1.15"/><circle cx="46.52" cy="260.75" r="1.15"/><circle cx="48.11" cy="241.30" r="1.15"/><circle cx="49.69" cy="244.31" r="1.15"/><circle cx="51.28" cy="255.24" r="1.15"/><circle cx="52.87" cy="256.54" r="1.15"/><circle cx="54.45" cy="257.74" r="1.15"/><circle cx="56.04" cy="238.09" r="1.15"/><circle cx="57.62" cy="247.02" r="1.15"/><circle cx="59.21" cy="240.00" r="1.15"/><circle cx="60.79" cy="240.00" r="1.15"/><circle cx="62.38" cy="253.43" r="1.15"/><circle cx="63.96" cy="248.12" r="1.15"/><circle cx="65.55" cy="228.07" r="1.15"/><circle cx="67.13" cy="237.09" r="1.15"/><circle cx="68.72" cy="226.26" r="1.15"/><circle cx="70.30" cy="253.03" r="1.15"/><circle cx="71.89" cy="255.44" r="1.15"/><circle cx="73.47" cy="237.19" r="1.15"/><circle cx="75.06" cy="236.39" r="1.15"/><circle cx="76.65" cy="254.24" r="1.15"/><circle cx="78.23" cy="248.32" r="1.15"/><circle cx="79.82" cy="253.43" r="1.15"/><circle cx="81.40" cy="243.41" r="1.15"/><circle cx="82.99" cy="237.59" r="1.15"/><circle cx="84.57" cy="237.49" r="1.15"/><circle cx="86.16" cy="258.15" r="1.15"/><circle cx="87.74" cy="249.42" r="1.15"/><circle cx="89.33" cy="243.61" r="1.15"/><circle cx="90.91" cy="259.65" r="1.15"/><circle cx="92.50" cy="261.75" r="1.15"/><circle cx="94.08" cy="254.74" r="1.15"/><circle cx="95.67" cy="225.16" r="1.15"/><circle cx="97.25" cy="237.99" r="1.15"/><circle cx="98.84" cy="241.50" r="1.15"/><circle cx="100.43" cy="253.93" r="1.15"/><circle cx="102.01" cy="233.18" r="1.15"/><circle cx="103.60" cy="231.17" r="1.15"/><circle cx="105.18" cy="255.44" r="1.15"/><circle cx="106.77" cy="210.52" r="1.15"/><circle cx="108.35" cy="256.54" r="1.15"/><circle cx="109.94" cy="255.64" r="1.15"/><circle cx="111.52" cy="250.53" r="1.15"/><circle cx="113.11" cy="251.53" r="1.15"/><circle cx="114.69" cy="234.28" r="1.15"/><circle cx="116.28" cy="240.30" r="1.15"/><circle cx="117.86" cy="262.56" r="1.15"/><circle cx="119.45" cy="235.49" r="1.15"/><circle cx="121.03" cy="242.50" r="1.15"/><circle cx="122.62" cy="239.20" r="1.15"/><circle cx="124.21" cy="234.28" r="1.15"/><circle cx="125.79" cy="239.80" r="1.15"/><circle cx="127.38" cy="219.14" r="1.15"/><circle cx="128.96" cy="258.65" r="1.15"/><circle cx="130.55" cy="228.27" r="1.15"/><circle cx="132.13" cy="236.99" r="1.15"/><circle cx="133.72" cy="249.42" r="1.15"/><circle cx="135.30" cy="231.48" r="1.15"/><circle cx="136.89" cy="250.73" r="1.15"/><circle cx="138.47" cy="239.80" r="1.15"/><circle cx="140.06" cy="258.65" r="1.15"/><circle cx="141.64" cy="241.60" r="1.15"/><circle cx="143.23" cy="232.28" r="1.15"/><circle cx="144.81" cy="248.42" r="1.15"/><circle cx="146.40" cy="245.21" r="1.15"/><circle cx="147.99" cy="247.92" r="1.15"/><circle cx="149.57" cy="244.51" r="1.15"/><circle cx="151.16" cy="251.93" r="1.15"/><circle cx="152.74" cy="212.22" r="1.15"/><circle cx="154.33" cy="217.24" r="1.15"/><circle cx="155.91" cy="239.40" r="1.15"/><circle cx="157.50" cy="250.53" r="1.15"/><circle cx="159.08" cy="236.29" r="1.15"/><circle cx="160.67" cy="234.68" r="1.15"/><circle cx="162.25" cy="221.05" r="1.15"/><circle cx="163.84" cy="235.39" r="1.15"/><circle cx="165.42" cy="228.47" r="1.15"/><circle cx="167.01" cy="222.45" r="1.15"/><circle cx="168.59" cy="242.70" r="1.15"/><circle cx="170.18" cy="243.81" r="1.15"/><circle cx="171.77" cy="225.96" r="1.15"/><circle cx="173.35" cy="253.93" r="1.15"/><circle cx="174.94" cy="228.67" r="1.15"/><circle cx="176.52" cy="243.21" r="1.15"/><circle cx="178.11" cy="229.27" r="1.15"/><circle cx="179.69" cy="240.60" r="1.15"/><circle cx="181.28" cy="236.29" r="1.15"/><circle cx="182.86" cy="249.42" r="1.15"/><circle cx="184.45" cy="239.40" r="1.15"/><circle cx="186.03" cy="258.35" r="1.15"/><circle cx="187.62" cy="238.29" r="1.15"/><circle cx="189.20" cy="222.45" r="1.15"/><circle cx="190.79" cy="240.20" r="1.15"/><circle cx="192.37" cy="240.20" r="1.15"/><circle cx="193.96" cy="235.39" r="1.15"/><circle cx="195.55" cy="230.07" r="1.15"/><circle cx="197.13" cy="248.52" r="1.15"/><circle cx="198.72" cy="238.29" r="1.15"/><circle cx="200.30" cy="226.56" r="1.15"/><circle cx="201.89" cy="247.97" r="1.15"/><circle cx="203.47" cy="237.39" r="1.15"/><circle cx="205.06" cy="254.54" r="1.15"/><circle cx="206.64" cy="249.72" r="1.15"/><circle cx="208.23" cy="236.49" r="1.15"/><circle cx="209.81" cy="237.39" r="1.15"/><circle cx="211.40" cy="244.71" r="1.15"/><circle cx="212.98" cy="245.91" r="1.15"/><circle cx="214.57" cy="237.59" r="1.15"/><circle cx="216.15" cy="254.94" r="1.15"/><circle cx="217.74" cy="229.17" r="1.15"/><circle cx="219.33" cy="237.59" r="1.15"/><circle cx="220.91" cy="235.79" r="1.15"/><circle cx="222.50" cy="241.20" r="1.15"/><circle cx="224.08" cy="251.33" r="1.15"/><circle cx="225.67" cy="228.57" r="1.15"/><circle cx="227.25" cy="238.69" r="1.15"/><circle cx="228.84" cy="242.50" r="1.15"/><circle cx="230.42" cy="226.66" r="1.15"/><circle cx="232.01" cy="248.32" r="1.15"/><circle cx="233.59" cy="229.07" r="1.15"/><circle cx="235.18" cy="229.37" r="1.15"/><circle cx="236.76" cy="228.57" r="1.15"/><circle cx="238.35" cy="236.49" r="1.15"/><circle cx="239.93" cy="238.59" r="1.15"/><circle cx="241.52" cy="230.47" r="1.15"/><circle cx="243.11" cy="250.12" r="1.15"/><circle cx="244.69" cy="226.96" r="1.15"/><circle cx="246.28" cy="238.49" r="1.15"/><circle cx="247.86" cy="222.85" r="1.15"/><circle cx="249.45" cy="250.73" r="1.15"/><circle cx="251.03" cy="251.13" r="1.15"/><circle cx="252.62" cy="230.27" r="1.15"/><circle cx="254.20" cy="234.68" r="1.15"/><circle cx="255.79" cy="234.18" r="1.15"/><circle cx="257.37" cy="224.96" r="1.15"/><circle cx="258.96" cy="236.79" r="1.15"/><circle cx="260.54" cy="238.19" r="1.15"/><circle cx="262.13" cy="243.21" r="1.15"/><circle cx="263.71" cy="232.58" r="1.15"/><circle cx="265.30" cy="226.36" r="1.15"/></g>
<g class="lg">
<circle cx="81.50" cy="322.90" r="1.2" fill="#1767cc" stroke="none"/>
<text x="84.30" y="324.50">Actual Treatment Duration</text>
<circle cx="158.20" cy="322.90" r="1.2" fill="#ff0000" stroke="none"/>
<text x="160.80" y="324.50">Lasso Prediction</text>
</g>
<path d="M298.40 278.98H536.30 M298.40 259.92H536.30 M298.40 240.85H536.30 M298.40 221.78H536.30 M298.40 202.72H536.30 M298.40 183.65H536.30 M298.40 183.65V298.05 M330.12 183.65V298.05 M361.84 183.65V298.05 M393.56 183.65V298.05 M425.28 183.65V298.05 M457.00 183.65V298.05 M488.72 183.65V298.05 M520.44 183.65V298.05" stroke="#e8e8e8" stroke-width="0.6" fill="none"/>
<path d="M298.40 298.05H536.30" stroke="#dcdcdc" stroke-width="0.7" fill="none"/>
<text x="294.10" y="299.95" text-anchor="end" class="t">0</text>
<text x="294.10" y="280.88" text-anchor="end" class="t">10</text>
<text x="294.10" y="261.82" text-anchor="end" class="t">20</text>
<text x="294.10" y="242.75" text-anchor="end" class="t">30</text>
<text x="294.10" y="223.68" text-anchor="end" class="t">40</text>
<text x="294.10" y="204.62" text-anchor="end" class="t">50</text>
<text x="294.10" y="185.55" text-anchor="end" class="t">60</text>
<text x="298.40" y="306.25" text-anchor="middle" class="t">0</text>
<text x="330.12" y="306.25" text-anchor="middle" class="t">20</text>
<text x="361.84" y="306.25" text-anchor="middle" class="t">40</text>
<text x="393.56" y="306.25" text-anchor="middle" class="t">60</text>
<text x="425.28" y="306.25" text-anchor="middle" class="t">80</text>
<text x="457.00" y="306.25" text-anchor="middle" class="t">100</text>
<text x="488.72" y="306.25" text-anchor="middle" class="t">120</text>
<text x="520.44" y="306.25" text-anchor="middle" class="t">140</text>
<text x="417.35" y="313.15" text-anchor="middle" class="t">Patient Sample</text>
<text transform="translate(284.70 240.85) rotate(-90)" text-anchor="middle" class="t">Total Treatment Duration (Months)</text>
<text x="410.00" y="177.30" text-anchor="middle" class="ti">Random Forest (Normalized)</text>
<g fill="#1767cc"><circle cx="298.40" cy="276.79" r="1.2"/><circle cx="299.99" cy="273.57" r="1.2"/><circle cx="301.57" cy="273.03" r="1.2"/><circle cx="303.16" cy="271.95" r="1.2"/><circle cx="304.74" cy="270.05" r="1.2"/><circle cx="306.33" cy="269.21" r="1.2"/><circle cx="307.92" cy="268.45" r="1.2"/><circle cx="309.50" cy="268.16" r="1.2"/><circle cx="311.09" cy="267.89" r="1.2"/><circle cx="312.67" cy="267.66" r="1.2"/><circle cx="314.26" cy="267.46" r="1.2"/><circle cx="315.85" cy="267.29" r="1.2"/><circle cx="317.43" cy="267.06" r="1.2"/><circle cx="319.02" cy="266.83" r="1.2"/><circle cx="320.60" cy="266.66" r="1.2"/><circle cx="322.19" cy="266.28" r="1.2"/><circle cx="323.78" cy="265.63" r="1.2"/><circle cx="325.36" cy="264.37" r="1.2"/><circle cx="326.95" cy="264.37" r="1.2"/><circle cx="328.53" cy="264.08" r="1.2"/><circle cx="330.12" cy="263.57" r="1.2"/><circle cx="331.71" cy="263.18" r="1.2"/><circle cx="333.29" cy="262.75" r="1.2"/><circle cx="334.88" cy="262.31" r="1.2"/><circle cx="336.46" cy="261.61" r="1.2"/><circle cx="338.05" cy="260.55" r="1.2"/><circle cx="339.64" cy="260.40" r="1.2"/><circle cx="341.22" cy="260.03" r="1.2"/><circle cx="342.81" cy="259.57" r="1.2"/><circle cx="344.39" cy="259.27" r="1.2"/><circle cx="345.98" cy="259.18" r="1.2"/><circle cx="347.57" cy="258.99" r="1.2"/><circle cx="349.15" cy="258.75" r="1.2"/><circle cx="350.74" cy="258.75" r="1.2"/><circle cx="352.32" cy="258.66" r="1.2"/><circle cx="353.91" cy="257.74" r="1.2"/><circle cx="355.50" cy="257.47" r="1.2"/><circle cx="357.08" cy="257.29" r="1.2"/><circle cx="358.67" cy="257.09" r="1.2"/><circle cx="360.25" cy="256.74" r="1.2"/><circle cx="361.84" cy="256.36" r="1.2"/><circle cx="363.43" cy="255.94" r="1.2"/><circle cx="365.01" cy="255.62" r="1.2"/><circle cx="366.60" cy="255.31" r="1.2"/><circle cx="368.18" cy="254.69" r="1.2"/><circle cx="369.77" cy="254.17" r="1.2"/><circle cx="371.36" cy="253.93" r="1.2"/><circle cx="372.94" cy="253.70" r="1.2"/><circle cx="374.53" cy="253.46" r="1.2"/><circle cx="376.11" cy="253.18" r="1.2"/><circle cx="377.70" cy="252.77" r="1.2"/><circle cx="379.29" cy="251.89" r="1.2"/><circle cx="380.87" cy="251.45" r="1.2"/><circle cx="382.46" cy="250.79" r="1.2"/><circle cx="384.04" cy="250.06" r="1.2"/><circle cx="385.63" cy="249.44" r="1.2"/><circle cx="387.22" cy="249.09" r="1.2"/><circle cx="388.80" cy="249.03" r="1.2"/><circle cx="390.39" cy="248.65" r="1.2"/><circle cx="391.97" cy="248.18" r="1.2"/><circle cx="393.56" cy="247.71" r="1.2"/><circle cx="395.15" cy="247.31" r="1.2"/><circle cx="396.73" cy="247.03" r="1.2"/><circle cx="398.32" cy="246.63" r="1.2"/><circle cx="399.90" cy="246.15" r="1.2"/><circle cx="401.49" cy="245.52" r="1.2"/><circle cx="403.08" cy="244.92" r="1.2"/><circle cx="404.66" cy="244.51" r="1.2"/><circle cx="406.25" cy="244.11" r="1.2"/><circle cx="407.83" cy="243.71" r="1.2"/><circle cx="409.42" cy="243.31" r="1.2"/><circle cx="411.01" cy="242.93" r="1.2"/><circle cx="412.59" cy="242.70" r="1.2"/><circle cx="414.18" cy="242.53" r="1.2"/><circle cx="415.76" cy="242.36" r="1.2"/><circle cx="417.35" cy="242.17" r="1.2"/><circle cx="418.94" cy="241.94" r="1.2"/><circle cx="420.52" cy="241.75" r="1.2"/><circle cx="422.11" cy="241.63" r="1.2"/><circle cx="423.69" cy="241.44" r="1.2"/><circle cx="425.28" cy="240.17" r="1.2"/><circle cx="426.87" cy="238.95" r="1.2"/><circle cx="428.45" cy="238.77" r="1.2"/><circle cx="430.04" cy="238.56" r="1.2"/><circle cx="431.62" cy="238.33" r="1.2"/><circle cx="433.21" cy="238.09" r="1.2"/><circle cx="434.80" cy="237.86" r="1.2"/><circle cx="436.38" cy="237.68" r="1.2"/><circle cx="437.97" cy="237.15" r="1.2"/><circle cx="439.55" cy="236.48" r="1.2"/><circle cx="441.14" cy="236.43" r="1.2"/><circle cx="442.73" cy="236.36" r="1.2"/><circle cx="444.31" cy="236.18" r="1.2"/><circle cx="445.90" cy="235.90" r="1.2"/><circle cx="447.48" cy="235.48" r="1.2"/><circle cx="449.07" cy="235.03" r="1.2"/><circle cx="450.66" cy="234.55" r="1.2"/><circle cx="452.24" cy="233.99" r="1.2"/><circle cx="453.83" cy="233.87" r="1.2"/><circle cx="455.41" cy="233.78" r="1.2"/><circle cx="457.00" cy="233.78" r="1.2"/><circle cx="458.59" cy="233.61" r="1.2"/><circle cx="460.17" cy="233.28" r="1.2"/><circle cx="461.76" cy="232.78" r="1.2"/><circle cx="463.34" cy="232.52" r="1.2"/><circle cx="464.93" cy="232.29" r="1.2"/><circle cx="466.52" cy="231.99" r="1.2"/><circle cx="468.10" cy="231.70" r="1.2"/><circle cx="469.69" cy="231.42" r="1.2"/><circle cx="471.27" cy="231.13" r="1.2"/><circle cx="472.86" cy="230.83" r="1.2"/><circle cx="474.45" cy="230.63" r="1.2"/><circle cx="476.03" cy="230.46" r="1.2"/><circle cx="477.62" cy="230.28" r="1.2"/><circle cx="479.20" cy="229.99" r="1.2"/><circle cx="480.79" cy="229.54" r="1.2"/><circle cx="482.38" cy="229.18" r="1.2"/><circle cx="483.96" cy="228.89" r="1.2"/><circle cx="485.55" cy="227.58" r="1.2"/><circle cx="487.13" cy="226.84" r="1.2"/><circle cx="488.72" cy="226.72" r="1.2"/><circle cx="490.31" cy="226.54" r="1.2"/><circle cx="491.89" cy="226.32" r="1.2"/><circle cx="493.48" cy="226.06" r="1.2"/><circle cx="495.06" cy="225.82" r="1.2"/><circle cx="496.65" cy="225.45" r="1.2"/><circle cx="498.24" cy="224.94" r="1.2"/><circle cx="499.82" cy="224.41" r="1.2"/><circle cx="501.41" cy="223.87" r="1.2"/><circle cx="502.99" cy="222.96" r="1.2"/><circle cx="504.58" cy="221.25" r="1.2"/><circle cx="506.17" cy="221.25" r="1.2"/><circle cx="507.75" cy="220.98" r="1.2"/><circle cx="509.34" cy="220.23" r="1.2"/><circle cx="510.92" cy="219.03" r="1.2"/><circle cx="512.51" cy="218.64" r="1.2"/><circle cx="514.10" cy="218.25" r="1.2"/><circle cx="515.68" cy="217.87" r="1.2"/><circle cx="517.27" cy="217.43" r="1.2"/><circle cx="518.85" cy="216.98" r="1.2"/><circle cx="520.44" cy="216.53" r="1.2"/><circle cx="522.03" cy="216.02" r="1.2"/><circle cx="523.61" cy="215.44" r="1.2"/><circle cx="525.20" cy="215.33" r="1.2"/><circle cx="526.78" cy="215.32" r="1.2"/><circle cx="528.37" cy="215.17" r="1.2"/><circle cx="529.96" cy="214.18" r="1.2"/><circle cx="531.54" cy="213.73" r="1.2"/><circle cx="533.13" cy="213.73" r="1.2"/><circle cx="534.71" cy="211.69" r="1.2"/><circle cx="536.30" cy="210.12" r="1.2"/></g>
<g fill="#ff0000"><circle cx="298.40" cy="232.60" r="1.15"/><circle cx="299.99" cy="246.00" r="1.15"/><circle cx="301.57" cy="242.00" r="1.15"/><circle cx="303.16" cy="256.00" r="1.15"/><circle cx="304.74" cy="252.10" r="1.15"/><circle cx="306.33" cy="232.60" r="1.15"/><circle cx="307.92" cy="245.30" r="1.15"/><circle cx="309.50" cy="263.30" r="1.15"/><circle cx="311.09" cy="253.80" r="1.15"/><circle cx="312.67" cy="242.00" r="1.15"/><circle cx="314.26" cy="255.40" r="1.15"/><circle cx="315.85" cy="248.50" r="1.15"/><circle cx="317.43" cy="249.90" r="1.15"/><circle cx="319.02" cy="232.90" r="1.15"/><circle cx="320.60" cy="250.20" r="1.15"/><circle cx="322.19" cy="242.30" r="1.15"/><circle cx="323.78" cy="259.80" r="1.15"/><circle cx="325.36" cy="245.80" r="1.15"/><circle cx="326.95" cy="229.70" r="1.15"/><circle cx="328.53" cy="252.90" r="1.15"/><circle cx="330.12" cy="228.90" r="1.15"/><circle cx="331.71" cy="236.50" r="1.15"/><circle cx="333.29" cy="250.20" r="1.15"/><circle cx="334.88" cy="250.00" r="1.15"/><circle cx="336.46" cy="236.50" r="1.15"/><circle cx="338.05" cy="231.50" r="1.15"/><circle cx="339.64" cy="230.40" r="1.15"/><circle cx="341.22" cy="240.90" r="1.15"/><circle cx="342.81" cy="243.60" r="1.15"/><circle cx="344.39" cy="236.20" r="1.15"/><circle cx="345.98" cy="231.50" r="1.15"/><circle cx="347.57" cy="249.30" r="1.15"/><circle cx="349.15" cy="251.10" r="1.15"/><circle cx="350.74" cy="236.70" r="1.15"/><circle cx="352.32" cy="239.40" r="1.15"/><circle cx="353.91" cy="238.70" r="1.15"/><circle cx="355.50" cy="249.60" r="1.15"/><circle cx="357.08" cy="255.90" r="1.15"/><circle cx="358.67" cy="242.50" r="1.15"/><circle cx="360.25" cy="247.50" r="1.15"/><circle cx="361.84" cy="246.40" r="1.15"/><circle cx="363.43" cy="251.50" r="1.15"/><circle cx="365.01" cy="248.50" r="1.15"/><circle cx="366.60" cy="243.90" r="1.15"/><circle cx="368.18" cy="230.00" r="1.15"/><circle cx="369.77" cy="239.60" r="1.15"/><circle cx="371.36" cy="251.80" r="1.15"/><circle cx="372.94" cy="232.40" r="1.15"/><circle cx="374.53" cy="239.10" r="1.15"/><circle cx="376.11" cy="246.90" r="1.15"/><circle cx="377.70" cy="227.80" r="1.15"/><circle cx="379.29" cy="258.70" r="1.15"/><circle cx="380.87" cy="252.40" r="1.15"/><circle cx="382.46" cy="248.70" r="1.15"/><circle cx="384.04" cy="256.40" r="1.15"/><circle cx="385.63" cy="235.80" r="1.15"/><circle cx="387.22" cy="241.20" r="1.15"/><circle cx="388.80" cy="256.00" r="1.15"/><circle cx="390.39" cy="238.40" r="1.15"/><circle cx="391.97" cy="225.50" r="1.15"/><circle cx="393.56" cy="238.20" r="1.15"/><circle cx="395.15" cy="236.90" r="1.15"/><circle cx="396.73" cy="237.80" r="1.15"/><circle cx="398.32" cy="238.00" r="1.15"/><circle cx="399.90" cy="246.10" r="1.15"/><circle cx="401.49" cy="241.70" r="1.15"/><circle cx="403.08" cy="237.70" r="1.15"/><circle cx="404.66" cy="240.30" r="1.15"/><circle cx="406.25" cy="234.00" r="1.15"/><circle cx="407.83" cy="239.70" r="1.15"/><circle cx="409.42" cy="238.80" r="1.15"/><circle cx="411.01" cy="248.50" r="1.15"/><circle cx="412.59" cy="233.30" r="1.15"/><circle cx="414.18" cy="237.80" r="1.15"/><circle cx="415.76" cy="250.30" r="1.15"/><circle cx="417.35" cy="243.00" r="1.15"/><circle cx="418.94" cy="236.50" r="1.15"/><circle cx="420.52" cy="231.10" r="1.15"/><circle cx="422.11" cy="245.60" r="1.15"/><circle cx="423.69" cy="231.30" r="1.15"/><circle cx="425.28" cy="226.10" r="1.15"/><circle cx="426.87" cy="243.10" r="1.15"/><circle cx="428.45" cy="240.50" r="1.15"/><circle cx="430.04" cy="239.60" r="1.15"/><circle cx="431.62" cy="248.00" r="1.15"/><circle cx="433.21" cy="238.00" r="1.15"/><circle cx="434.80" cy="240.90" r="1.15"/><circle cx="436.38" cy="236.00" r="1.15"/><circle cx="437.97" cy="237.40" r="1.15"/><circle cx="439.55" cy="229.30" r="1.15"/><circle cx="441.14" cy="228.00" r="1.15"/><circle cx="442.73" cy="228.50" r="1.15"/><circle cx="444.31" cy="245.10" r="1.15"/><circle cx="445.90" cy="231.80" r="1.15"/><circle cx="447.48" cy="244.80" r="1.15"/><circle cx="449.07" cy="234.50" r="1.15"/><circle cx="450.66" cy="236.40" r="1.15"/><circle cx="452.24" cy="235.60" r="1.15"/><circle cx="453.83" cy="254.70" r="1.15"/><circle cx="455.41" cy="239.70" r="1.15"/><circle cx="457.00" cy="256.80" r="1.15"/><circle cx="458.59" cy="245.30" r="1.15"/><circle cx="460.17" cy="226.70" r="1.15"/><circle cx="461.76" cy="234.80" r="1.15"/><circle cx="463.34" cy="234.80" r="1.15"/><circle cx="464.93" cy="219.60" r="1.15"/><circle cx="466.52" cy="238.60" r="1.15"/><circle cx="468.10" cy="246.90" r="1.15"/><circle cx="469.69" cy="235.90" r="1.15"/><circle cx="471.27" cy="235.40" r="1.15"/><circle cx="472.86" cy="244.70" r="1.15"/><circle cx="474.45" cy="244.90" r="1.15"/><circle cx="476.03" cy="246.70" r="1.15"/><circle cx="477.62" cy="253.70" r="1.15"/><circle cx="479.20" cy="233.50" r="1.15"/><circle cx="480.79" cy="236.50" r="1.15"/><circle cx="482.38" cy="235.60" r="1.15"/><circle cx="483.96" cy="251.50" r="1.15"/><circle cx="485.55" cy="221.50" r="1.15"/><circle cx="487.13" cy="257.10" r="1.15"/><circle cx="488.72" cy="232.70" r="1.15"/><circle cx="490.31" cy="232.90" r="1.15"/><circle cx="491.89" cy="238.90" r="1.15"/><circle cx="493.48" cy="247.20" r="1.15"/><circle cx="495.06" cy="249.90" r="1.15"/><circle cx="496.65" cy="240.10" r="1.15"/><circle cx="498.24" cy="238.50" r="1.15"/><circle cx="499.82" cy="236.00" r="1.15"/><circle cx="501.41" cy="236.00" r="1.15"/><circle cx="502.99" cy="231.10" r="1.15"/><circle cx="504.58" cy="235.40" r="1.15"/><circle cx="506.17" cy="240.10" r="1.15"/><circle cx="507.75" cy="236.80" r="1.15"/><circle cx="509.34" cy="234.50" r="1.15"/><circle cx="510.92" cy="242.90" r="1.15"/><circle cx="512.51" cy="227.60" r="1.15"/><circle cx="514.10" cy="231.00" r="1.15"/><circle cx="515.68" cy="235.70" r="1.15"/><circle cx="517.27" cy="227.00" r="1.15"/><circle cx="518.85" cy="227.70" r="1.15"/><circle cx="520.44" cy="241.70" r="1.15"/><circle cx="522.03" cy="257.80" r="1.15"/><circle cx="523.61" cy="235.70" r="1.15"/><circle cx="525.20" cy="238.50" r="1.15"/><circle cx="526.78" cy="228.30" r="1.15"/><circle cx="528.37" cy="233.80" r="1.15"/><circle cx="529.96" cy="232.80" r="1.15"/><circle cx="531.54" cy="233.20" r="1.15"/><circle cx="533.13" cy="232.40" r="1.15"/><circle cx="534.71" cy="234.40" r="1.15"/><circle cx="536.30" cy="236.80" r="1.15"/></g>
<g class="lg">
<circle cx="340.80" cy="322.90" r="1.2" fill="#1767cc" stroke="none"/>
<text x="343.50" y="324.50">Actual Treatment Duration</text>
<circle cx="418.40" cy="322.90" r="1.2" fill="#ff0000" stroke="none"/>
<text x="421.10" y="324.50">Random Forest Prediction</text>
</g>
<rect x="272.9" y="4" width="3.2" height="326.8" fill="#e2e2e2"/>
<rect x="4" y="165.9" width="541.9" height="3.1" fill="#e2e2e2"/>
<path d="M4.95 4.85V329.8 M544.85 4.85V329.8 M4.95 4.85H544.85 M4.95 329.8H544.85" stroke="#b9b9b9" stroke-width="1.9" fill="none" stroke-linejoin="round"/>
<path d="M273.45 4.85V329.8 M275.55 4.85V329.8" stroke="#ababab" stroke-width="1.05" fill="none"/>
<path d="M4.95 166.6H273.45 M275.55 166.6H544.85 M4.95 168.4H273.45 M275.55 168.4H544.85" stroke="#ababab" stroke-width="1.3" fill="none"/>
</svg>
</body></html>
